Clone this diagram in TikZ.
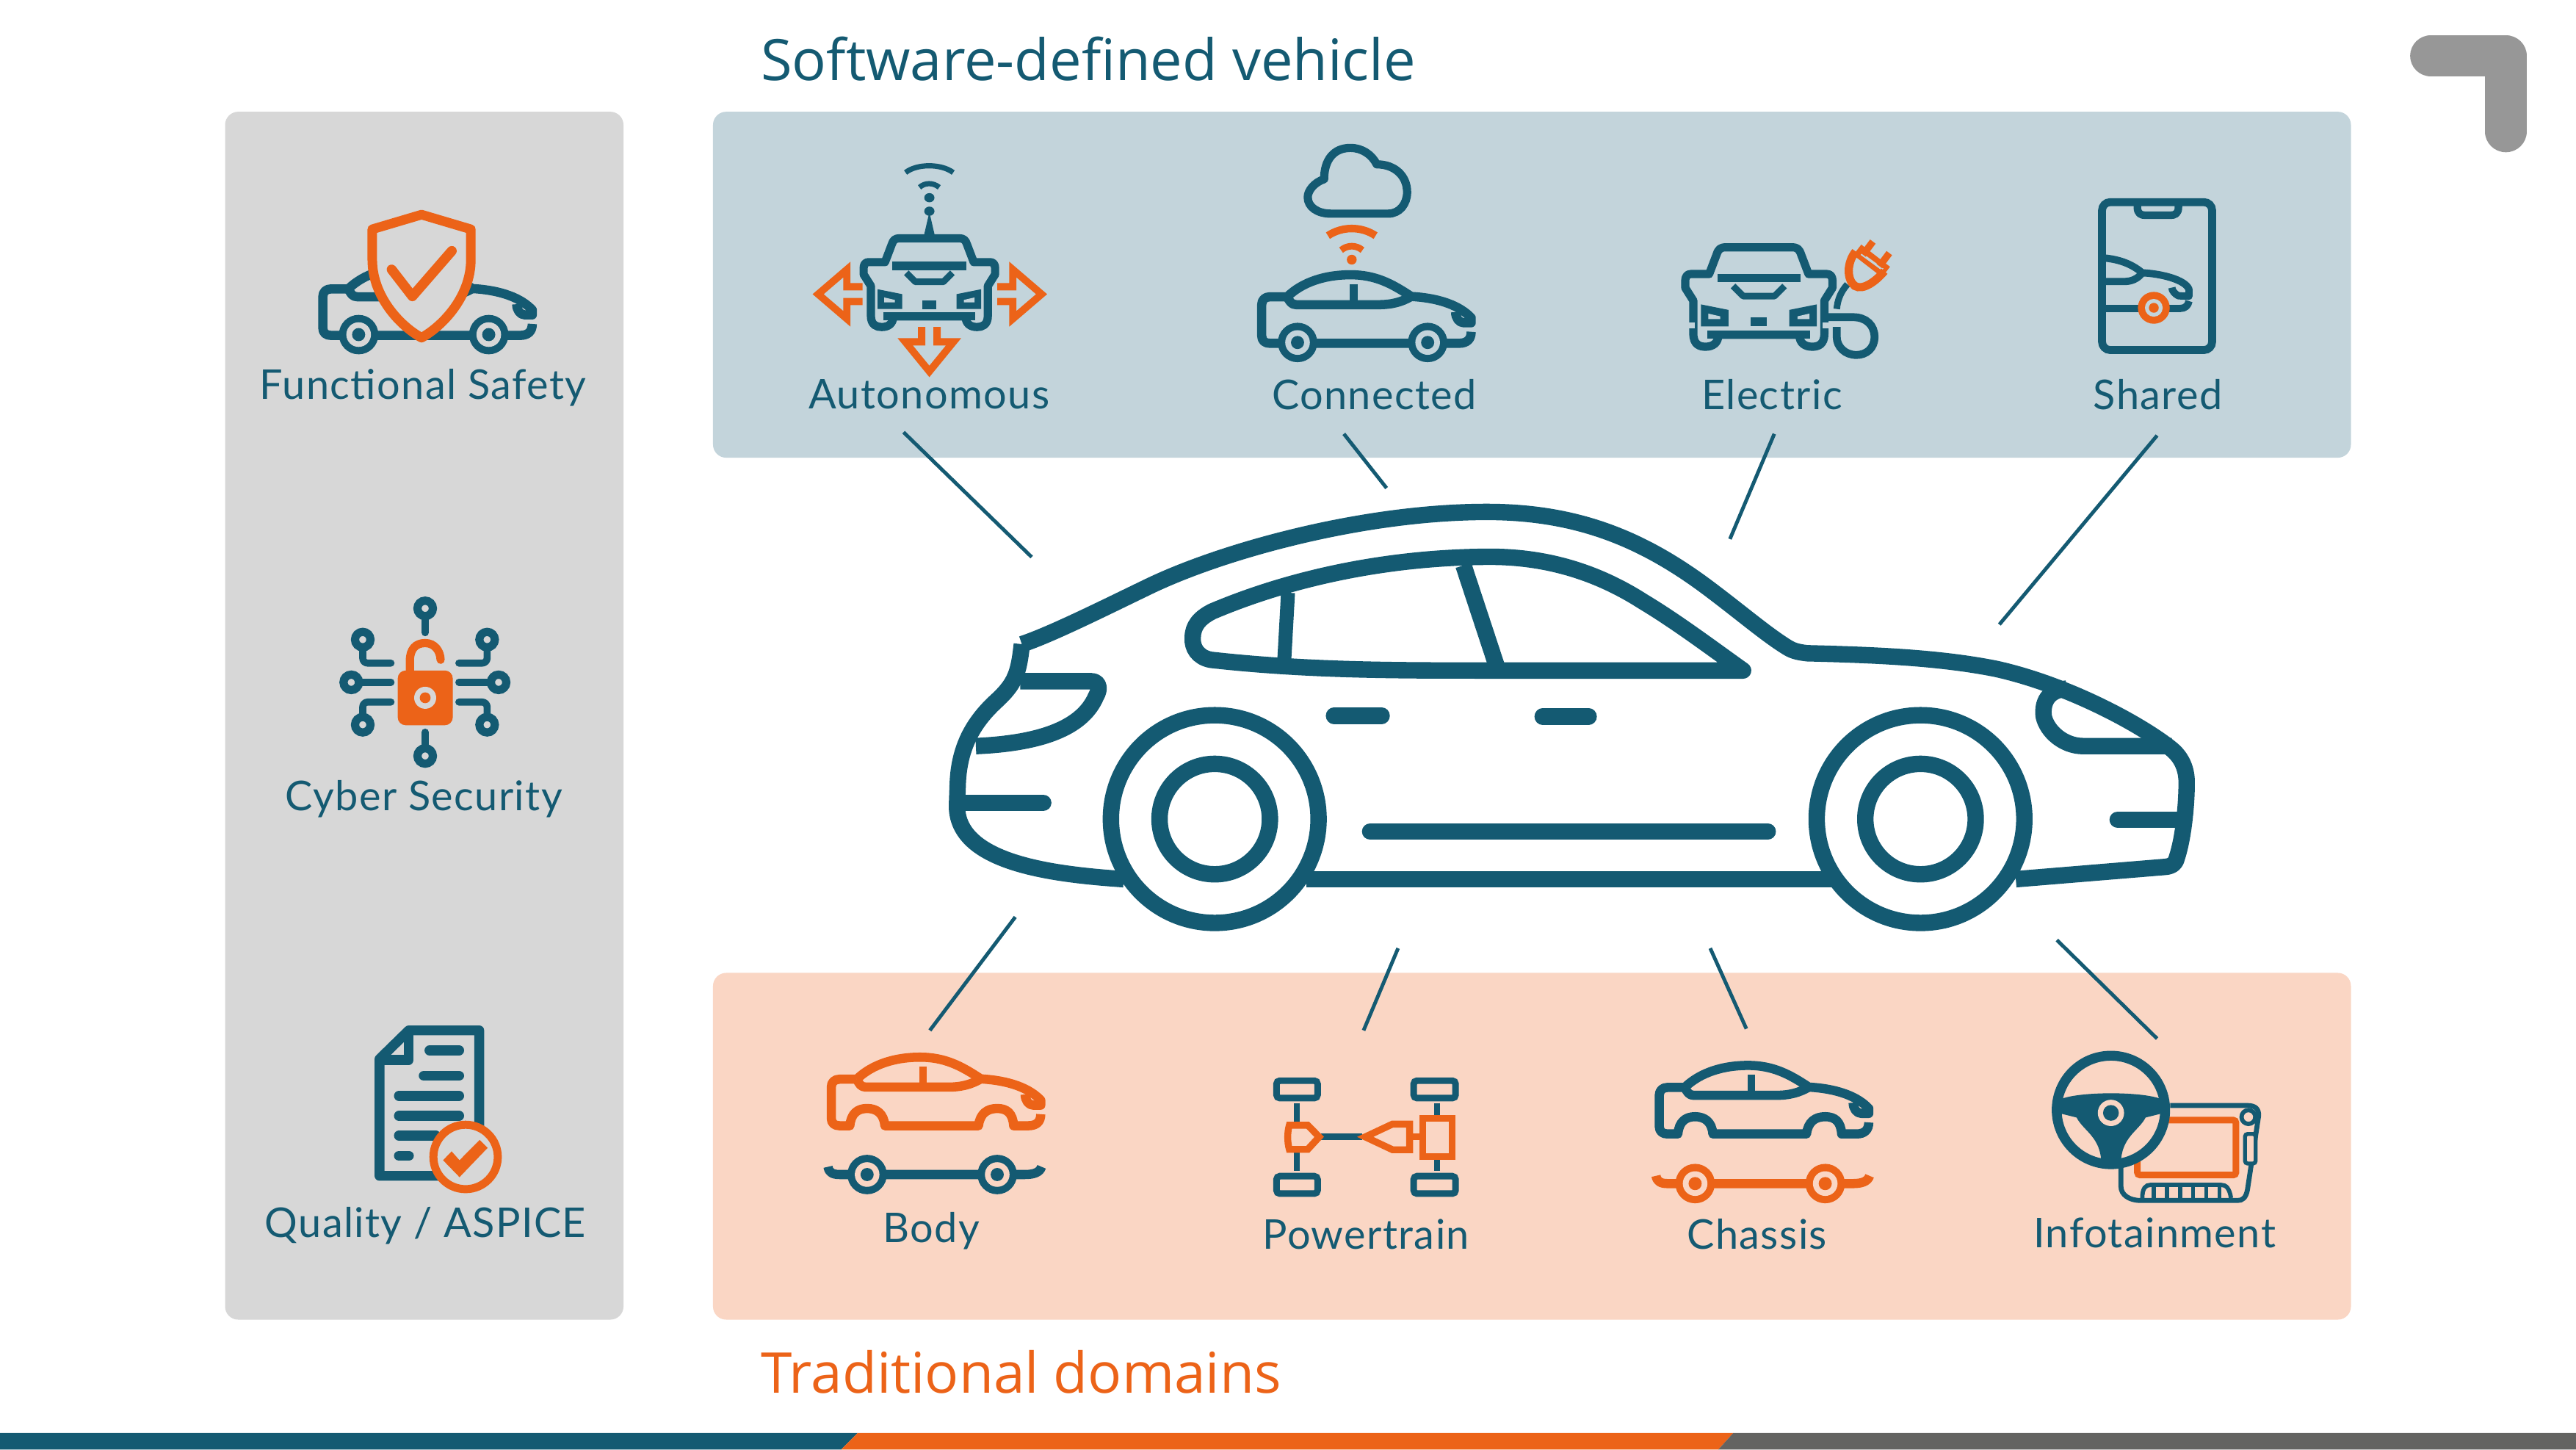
\documentclass[tikz,border=0pt]{standalone}
\usepackage{fontspec}
\newfontfamily\labfont[LetterSpace=2.5]{Lato}
\newfontfamily\titlefont{Open Sans}
\definecolor{teal}{HTML}{145A72}
\definecolor{orng}{HTML}{EC6318}
\definecolor{panelgray}{HTML}{D7D7D7}
\definecolor{panelblue}{HTML}{C3D4DB}
\definecolor{panelorange}{HTML}{FAD6C4}
\definecolor{cornergray}{HTML}{979797}
\definecolor{stripgray}{HTML}{636361}
\tikzset{
  lw/.style={line width=#1*0.5mm},
  panel/.style={rounded corners=4mm},
  ink/.style={line cap=butt,line join=round},
  lbl/.style={text=teal,font=\labfont\fontsize{35.5}{40}\selectfont,inner sep=0pt,anchor=center},
  ttl/.style={font=\titlefont\fontsize{49.4}{60}\selectfont,inner sep=0pt,anchor=west},
  link/.style={draw=teal,lw=2.2}
}
% side-view car: upper body without wheel arches
\newcommand{\sideUpper}[1]{%
  \draw[#1,ink,lw=5.6] (18.5,15.2) .. controls (28,6) and (42,1.8) .. (57,1.8) .. controls (72,1.8) and (82,7) .. (94,15) .. controls (112,16) and (124,21) .. (130.5,28) -- (130.5,31) -- (126,31) .. controls (123,31) and (121,28) .. (121,24.5);
  \draw[#1,ink,lw=5.6] (18.5,15.2) .. controls (20,18) and (21,20) .. (24,20) -- (74,20) .. controls (82,20) and (88,18.5) .. (94,15);
  \draw[#1,ink,lw=4.5] (59,7.5) -- (59,19);
}
\newcommand{\sideBody}[3]{% x y colour : body with wheel arches
\begin{scope}[shift={(#1,#2)}]
  \sideUpper{#3}
  \draw[#3,ink,lw=5.6] (18.5,15.2) -- (8,15.2) .. controls (5,15.2) and (3,17) .. (3,20) -- (3,39) .. controls (3,42) and (5,43.5) .. (8,43.5) -- (14.3,43.5) .. controls (15,36) and (19,33) .. (24.8,33) .. controls (30.5,33) and (35,36) .. (35.6,43.5) -- (92.6,43.5) .. controls (93.5,36) and (98,33) .. (104,33) .. controls (110,33) and (113.5,36) .. (114,43.5) -- (123,43.5) .. controls (128,43.5) and (130.5,41) .. (130.5,36.5);
\end{scope}}
\newcommand{\rim}[4]{% x y colour bg
  \fill[#3] (#1,#2) circle (12);
  \fill[#4] (#1,#2) circle (7.5);
  \fill[#3] (#1,#2) circle (4);
}
\newcommand{\sideFrame}[4]{% x y colour bg : frame with wheels
\begin{scope}[shift={(#1,#2)}]
  \draw[#3,ink,lw=5.6] (1,69) .. controls (1.5,72.5) and (4,73.7) .. (8,73.7) -- (121,73.7) .. controls (126,73.7) and (130,72.5) .. (131,69);
  \rim{24.8}{73.7}{#3}{#4}
  \rim{104}{73.7}{#3}{#4}
\end{scope}}
\newcommand{\sideWhole}[4]{% x y colour bg : car with wheels
\begin{scope}[shift={(#1,#2)}]
  \sideUpper{#3}
  \draw[#3,ink,lw=5.6] (18.5,15.2) -- (8,15.2) .. controls (5,15.2) and (3,17) .. (3,20) -- (3,39) .. controls (3,42) and (5,43.5) .. (8,43.5) -- (123,43.5) .. controls (128,43.5) and (130.5,41) .. (130.5,36.5);
  \rim{24.8}{43}{#3}{#4}
  \rim{104}{43}{#3}{#4}
\end{scope}}
\newcommand{\frontCar}[4]{% x y scale bg
\begin{scope}[shift={(#1,#2)},scale=#3]
  \draw[teal,lw=5,line join=round] (-18,0) -- (18,0) .. controls (21,0) and (22,1) .. (23,4) -- (27,14.5) -- (37,14.5) .. controls (39,14.5) and (40,16) .. (40,18) -- (40,22) -- (35.6,29) -- (35.6,47) .. controls (35.6,53) and (32,54) .. (29,54) .. controls (25,54) and (22,52) .. (22,47.5) -- (-22,47.5) .. controls (-22,52) and (-25,54) .. (-29,54) .. controls (-32,54) and (-35.6,53) .. (-35.6,47) -- (-35.6,29) -- (-40,22) -- (-40,18) .. controls (-40,16) and (-39,14.5) .. (-37,14.5) -- (-27,14.5) -- (-23,4) .. controls (-22,1) and (-21,0) .. (-18,0) -- cycle;
  \draw[teal,lw=5] (-28,47.5) -- (28,47.5);
  \draw[teal,lw=5.2] (-22.5,16.7) -- (22.5,16.7);
  \draw[teal,lw=4,line join=round] (-14,21) -- (-8.5,26.5) -- (8.5,26.5) -- (14,21);
  \fill[teal] (-31.5,31) -- (-16.5,34) -- (-16.5,43) -- (-31.5,43) -- cycle;
  \fill[teal] (31.5,31) -- (16.5,34) -- (16.5,43) -- (31.5,43) -- cycle;
  \fill[#4] (-27.5,36) -- (-21,37.5) -- (-21,39) -- (-27.5,39) -- cycle;
  \fill[#4] (27.5,36) -- (21,37.5) -- (21,39) -- (27.5,39) -- cycle;
  \fill[teal] (-4.3,38) rectangle (4.3,43);
\end{scope}}
\newcommand{\wifi}[8]{% x colour dotY rDot smallY smallHalf bigY bigHalf
  \fill[#2] (#1,#3) circle (#4);
  \draw[#2,lw=4] (#1-#6,#5+2.2) .. controls (#1-#6*0.4,#5-1) and (#1+#6*0.4,#5-1) .. (#1+#6,#5+2.2);
  \draw[#2,lw=4.6] (#1-#8,#7+3.4) .. controls (#1-#8*0.4,#7-2.4) and (#1+#8*0.4,#7-2.4) .. (#1+#8,#7+3.4);
}
\newcommand{\chip}[2]{% x y
  \fill[panelgray,draw=teal,lw=5] (#1,#2) circle (4.7);
}
\begin{document}
\begin{tikzpicture}[x=0.5mm,y=-0.5mm]
\useasboundingbox (0,0) rectangle (1568,882);
\fill[white] (0,0) rectangle (1568,882);
% panels
\fill[panelgray,panel] (137,68) rectangle (379.5,803);
\fill[panelblue,panel] (434,68) rectangle (1431,278.5);
\fill[panelorange,panel] (434,592) rectangle (1431,803);
% titles
\node[ttl,text=teal] (title1) at (463,36) {Software-defined vehicle};
\node[ttl,text=orng,font=\titlefont\fontsize{48.7}{60}\selectfont] (title2) at (463,835) {Traditional domains};
% corner mark and footer
\draw[cornergray,lw=25.3,line cap=round,line join=round] (1479.7,34) -- (1525.3,34) -- (1525.3,80);
\fill[teal] (0,872) -- (522,872) -- (512,882) -- (0,882) -- cycle;
\fill[orng] (522,872) -- (1055,872) -- (1046,882) -- (512,882) -- cycle;
\fill[stripgray] (1055,872) -- (1568,872) -- (1568,882) -- (1046,882) -- cycle;

% ---------- big car ----------
\begin{scope}[lw=10,draw=teal,line cap=butt,line join=round]
\draw[teal] (622,392) .. controls (640,386) and (672,370) .. (700,356.5) .. controls (745,335) and (830,311.5) .. (905,311.5) .. controls (960,311.5) and (1000,328) .. (1040,358) .. controls (1060,373) and (1075,386) .. (1088,394) .. controls (1092,396.5) and (1096,397) .. (1100,397.5) .. controls (1140,398.5) and (1180,400) .. (1215,407) .. controls (1260,417) and (1305,442) .. (1322,456) .. controls (1328,461) and (1331,468) .. (1331,476) .. controls (1331,490) and (1329,510) .. (1325,522) .. controls (1324,526) and (1322,527) .. (1318,527.5) -- (1227,535);
\draw[teal] (795,535) -- (1116,535);
\draw[teal] (684,535) .. controls (640,532) and (582,525) .. (582.5,490) -- (583,476) .. controls (584,455) and (592,440) .. (606,427) .. controls (618,416) and (620,410) .. (622,392);
\draw[teal] (621,414.5) -- (664,414.5) .. controls (669,414.5) and (670,419) .. (667,424) .. controls (660,440) and (640,452) .. (594,454);
\draw[teal,line cap=round] (584,488.5) -- (635,488.5);
\draw[teal,line cap=round] (1289,498.8) -- (1329,498.8);
\draw[teal] (1258,419) .. controls (1246,420) and (1243,428) .. (1244,436) .. controls (1246,445) and (1256,454) .. (1268,454) -- (1322,454);
\draw[teal,line cap=round] (834,506) -- (1076,506);
\draw[teal,line cap=round] (812,435.5) -- (841,435.5);
\draw[teal,line cap=round] (939,436) -- (967,436);
% window
\draw[teal] (1061,408) -- (905,408) .. controls (850,408) and (795,408) .. (737,401.5) .. controls (729,400) and (725.5,394) .. (726,388) .. controls (726,381) and (730,376) .. (738,372) .. controls (790,350) and (850,338.8) .. (908,338.8) .. controls (945,339) and (975,350) .. (1000,366) .. controls (1020,378) and (1040,393) .. (1061,408) -- cycle;
\draw[teal,lw=8.5] (784,360.7) -- (781.6,404);
\draw[teal,lw=10] (890.8,344) -- (910.9,405);
% wheels
\draw[teal,fill=white] (739.4,498.4) circle (63.2);
\draw[teal] (739.4,498.4) circle (33.6);
\draw[teal,fill=white] (1169,498.4) circle (63.2);
\draw[teal] (1169,498.4) circle (33.6);
\end{scope}

% ---------- connectors ----------
\coordinate (a1) at (550,263); \coordinate (a2) at (628,339);
\coordinate (b1) at (818,264); \coordinate (b2) at (844,297);
\coordinate (c1) at (1080,264); \coordinate (c2) at (1053,328);
\coordinate (d1) at (1313,265); \coordinate (d2) at (1217,380);
\coordinate (e1) at (618,558); \coordinate (e2) at (566,627);
\coordinate (f1) at (851,577); \coordinate (f2) at (830,627);
\coordinate (g1) at (1041,577); \coordinate (g2) at (1063,626);
\coordinate (h1) at (1252,572); \coordinate (h2) at (1313,632);
\foreach \p/\q in {a1/a2,b1/b2,c1/c2,d1/d2,e1/e2,f1/f2,g1/g2,h1/h2} \draw[link] (\p) -- (\q);

% ---------- Autonomous ----------
\frontCar{565.7}{145}{1}{panelblue}
\fill[teal] (562,145) -- (569.4,145) -- (565.7,129) -- cycle;
\fill[teal] (565.7,128.5) ellipse (3.1 and 2.8);
\fill[teal] (565.7,120.3) ellipse (3.1 and 2.8);
\draw[teal,lw=3.2] (559.7,114) .. controls (563,111) and (568,111) .. (571.7,114);
\draw[teal,lw=3.2] (551.2,105) .. controls (558,99.5) and (573,99.5) .. (580.2,105);
\begin{scope}[orng,lw=4.4,line join=miter]
\draw (525,174.5) -- (515.5,174.5) -- (515.5,164) -- (498,179) -- (515.5,194) -- (515.5,183.5) -- (525,183.5);
\draw (607,174.5) -- (616.5,174.5) -- (616.5,164) -- (634,179) -- (616.5,194) -- (616.5,183.5) -- (607,183.5);
\draw (561,199) -- (561,208) -- (551,208) -- (565.7,226) -- (580.4,208) -- (570.4,208) -- (570.4,199);
\end{scope}

% ---------- Connected ----------
\draw[teal,lw=5,line join=round] (810,130) -- (845,130) .. controls (852,130) and (856.5,124) .. (856.5,117) .. controls (856.5,107) and (849,100) .. (838,100) .. controls (835,94) and (829,90) .. (822,90) .. controls (812,90) and (806,97) .. (806,109) .. controls (800,111) and (796,116) .. (796,120) .. controls (796,126) and (802,130) .. (810,130) -- cycle;
\wifi{822.8}{orng}{158}{3}{150}{6.5}{140}{14.5}
\sideWhole{765}{165.4}{teal}{panelblue}

% ---------- Electric ----------
\frontCar{1070.6}{150.5}{1.12}{panelblue}
\draw[panelblue,lw=4] (1025.5,198) -- (1031.5,198);
\draw[panelblue,lw=4] (1109.5,198) -- (1116,198);
\draw[teal,lw=4] (1124.5,173) .. controls (1120,178) and (1118.5,183) .. (1118,188);
\draw[teal,lw=4.8] (1111.7,193) -- (1128,193) .. controls (1136,193) and (1141,198) .. (1141,205) .. controls (1141,212) and (1136,216) .. (1130,216) .. controls (1123,216) and (1118,211) .. (1118,205) -- (1118,199);
\draw[orng,lw=8] (1130.5,152) -- (1148,165.5);
\draw[panelblue,lw=1.5] (1133,154.5) -- (1146,164);
\draw[orng,lw=5] (1129.5,153) .. controls (1124,160) and (1124,170) .. (1129,174) .. controls (1134,177) and (1142,171) .. (1147,165);
\draw[orng,lw=4.2] (1134,155) -- (1140,147);
\draw[orng,lw=4.2] (1144,162) -- (1150,154);

% ---------- Shared ----------
\draw[teal,lw=4.8,rounded corners=2.5mm] (1279.5,123) rectangle (1346.5,213);
\draw[teal,lw=4.6,line join=round] (1301,123) -- (1301,126) .. controls (1301,130) and (1303,131) .. (1306,131) -- (1321,131) .. controls (1324,131) and (1326,130) .. (1326,126) -- (1326,123);
\begin{scope}[teal,lw=4.4,line join=round]
\draw (1281,157) .. controls (1291,158) and (1298,161) .. (1304,166) .. controls (1315,166.5) and (1330,170) .. (1332.4,176) -- (1332.4,180.3) -- (1326,180) .. controls (1324,179) and (1322,177) .. (1322,175);
\draw (1281,171.3) -- (1293,171.3) .. controls (1297,171.3) and (1301,170) .. (1304,166);
\draw (1281,187.7) -- (1327,187.7) .. controls (1330,187.7) and (1332,186) .. (1332.4,183.2);
\end{scope}
\fill[orng] (1311,187.3) circle (9.7);
\fill[panelblue] (1311,187.3) circle (5.4);
\fill[orng] (1311,187.3) circle (3);

% ---------- Functional Safety ----------
\sideWhole{193.5}{160.6}{teal}{panelgray}
\draw[orng,fill=panelgray,lw=5.8,line join=round] (256.6,130.6) -- (286.6,139.5) -- (286.6,158) .. controls (286.6,180) and (270,198) .. (256.6,205.5) .. controls (243,198) and (226.6,180) .. (226.6,158) -- (226.6,139.5) -- cycle;
\draw[orng,lw=6,line cap=round,line join=round] (238.4,164) -- (251,180.3) -- (275,152.7);

% ---------- Cyber Security ----------
\fill[orng,rounded corners=2.4mm] (242.1,408) rectangle (275.6,441.3);
\draw[orng,lw=5,line cap=round] (249.5,409) -- (249.5,402) .. controls (249.5,395) and (253,391.3) .. (258.8,391.3) .. controls (264.5,391.3) and (268,396) .. (268.2,401.5);
\fill[panelgray] (258.8,424.6) circle (6.7);
\fill[orng] (258.8,424.6) circle (3.3);
\begin{scope}[teal,lw=4.3,line cap=round,line join=round,rounded corners=1.5mm]
\draw (258.8,372) -- (258.8,385);
\draw (258.8,458) -- (258.8,445.5);
\draw (213.8,415.2) -- (238,415.2);
\draw (303.5,415.2) -- (279.3,415.2);
\draw (220.8,389.2) -- (220.8,403.5) -- (238,403.5);
\draw (296.5,389.2) -- (296.5,403.5) -- (279.3,403.5);
\draw (220.8,441) -- (220.8,427.2) -- (238,427.2);
\draw (296.5,441) -- (296.5,427.2) -- (279.3,427.2);
\end{scope}
\chip{258.8}{370.2}\chip{258.8}{460}\chip{213.8}{415.2}\chip{303.5}{415.2}
\chip{220.8}{389.2}\chip{296.5}{389.2}\chip{220.8}{441}\chip{296.5}{441}

% ---------- Quality / ASPICE ----------
\draw[teal,lw=6,line join=round] (248.8,627) -- (291.7,627) -- (291.7,715.5) -- (231,715.5) -- (231,644.4) -- cycle;
\draw[teal,lw=6,line join=round] (248.8,627) -- (248.8,645) -- (231,645);
\begin{scope}[teal,lw=6.2,line cap=round]
\draw (261.5,639.2) -- (279.4,639.2);
\draw (258,654.6) -- (279.4,654.6);
\draw (242.9,666.8) -- (279.4,666.8);
\draw (242.9,679) -- (279.4,679);
\draw (242.9,691) -- (265.2,691);
\draw (242.9,703.3) -- (248.8,703.3);
\end{scope}
\draw[orng,fill=panelgray,lw=4.9] (283.4,704) circle (19.6);
\fill[orng] (269.7,706) -- (274.9,700.6) -- (279.7,706) -- (292,693.6) -- (296.8,698.5) -- (279.7,716.3) -- cycle;

% ---------- Body ----------
\sideBody{503}{641.5}{orng}
\sideFrame{503}{641}{teal}{panelorange}

% ---------- Chassis ----------
\sideBody{1007}{646.5}{teal}
\sideFrame{1007}{646.5}{orng}{panelorange}

% ---------- Powertrain ----------
\begin{scope}[teal,lw=4,rounded corners=1mm]
\draw (777,657.6) rectangle (802,668.2);
\draw (860.5,657.6) rectangle (886,668.2);
\draw (777,715.7) rectangle (802,726.3);
\draw (860.5,715.7) rectangle (886,726.3);
\end{scope}
\begin{scope}[teal,lw=3.6]
\draw (789.2,671.2) -- (789.2,683.2);
\draw (789.2,701) -- (789.2,712.5);
\draw (874.7,671.2) -- (874.7,679.4);
\draw (874.7,704.8) -- (874.7,712.5);
\draw[lw=4] (804,691.8) -- (829,691.8);
\end{scope}
\begin{scope}[orng,lw=4.2,line join=miter]
\draw (784.8,684.7) -- (796,684.7) -- (803,691.8) -- (796,699.4) -- (784.8,699.4) .. controls (783.5,695) and (783.5,689) .. (784.8,684.7) -- cycle;
\draw (831,691.8) -- (847.6,684) -- (858,684) -- (858,699.6) -- (847.6,699.6) -- cycle;
\draw (858,691.8) -- (866,691.8);
\draw (866,680.4) rectangle (884,703.8);
\end{scope}

% ---------- Infotainment ----------
\draw[teal,lw=3,line join=round] (1321,672.7) -- (1368,672.7) .. controls (1373,672.7) and (1375,675) .. (1374.8,679) -- (1368,724) .. controls (1367,729) and (1365,730.5) .. (1362,730.5) -- (1303,730.5) .. controls (1296,730.5) and (1291,727) .. (1291,722) -- (1291,708);
\draw[orng,lw=4,rounded corners=0.8mm] (1301,681.6) rectangle (1361,715);
\draw[teal,lw=2.6] (1304,729) .. controls (1304,723) and (1306,721) .. (1309,721) -- (1352,721) .. controls (1355,721) and (1357,723) .. (1358,729);
\foreach \vx in {1311,1319,1327,1335,1343,1351} \draw[teal,lw=2.4] (\vx,721) -- (\vx,729);
\draw[teal,fill=panelorange,lw=2.6] (1368.6,679.7) circle (4.2);
\draw[teal,fill=panelorange,lw=2.4,rounded corners=0.8mm] (1366.5,690) rectangle (1373,708);
\draw[teal,fill=panelorange,lw=6] (1284.9,675.4) circle (33);
\fill[teal] (1254,669) .. controls (1265,664) and (1305,664) .. (1316,669) -- (1318,677) -- (1306,680) .. controls (1302,688) and (1291,692) .. (1291,708) -- (1279,708) .. controls (1279,692) and (1268,688) .. (1264,680) -- (1252,677) -- cycle;
\fill[panelorange] (1284.9,677.2) circle (8);
\fill[teal] (1284.9,677.2) circle (4.8);

% ---------- labels ----------
\node[lbl] (l1) at (257.5,236) {Functional Safety};
\node[lbl] (l2) at (258,486) {Cyber Security};
\node[lbl] (l3) at (259,746) {Quality / ASPICE};
\node[lbl] (l4) at (565.5,240) {Autonomous};
\node[lbl] (l5) at (836.5,240) {Connected};
\node[lbl] (l6) at (1078.5,240) {Electric};
\node[lbl] (l7) at (1313.5,240) {Shared};
\node[lbl] (l8) at (567,749) {Body};
\node[lbl] (l9) at (831.5,751) {Powertrain};
\node[lbl] (l10) at (1069.5,751) {Chassis};
\node[lbl] (l11) at (1311.5,750) {Infotainment};
\end{tikzpicture}
\end{document}
